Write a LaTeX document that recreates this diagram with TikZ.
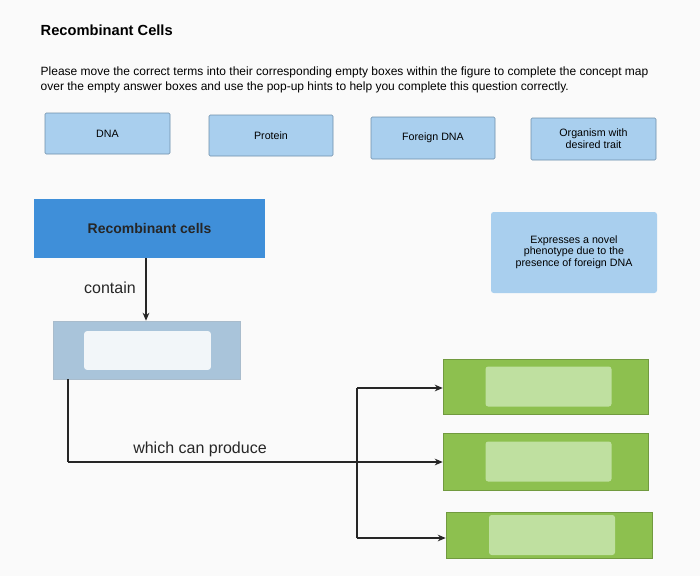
\documentclass[tikz,border=0pt]{standalone}
\usepackage{fontspec}
\setmainfont{Liberation Sans}
\usetikzlibrary{arrows.meta}
\definecolor{lb}{HTML}{A9CFEE}
\definecolor{lbd}{HTML}{6F8FAA}
\definecolor{mb}{HTML}{3F8FD9}
\definecolor{gb}{HTML}{8DC04F}
\definecolor{gi}{HTML}{BFE0A0}
\definecolor{gr}{HTML}{A9C4DA}
\begin{document}
\begin{tikzpicture}[x=0.75pt,y=-0.75pt,
 term/.style={draw=lbd,fill=lb,rounded corners=1pt,font=\fontsize{8}{9}\selectfont,align=center},
 ln/.style={line width=1.6pt,black!85},
 ar/.style={ln,-{Stealth[length=6pt,width=5pt]}},
 lab/.style={font=\fontsize{12}{14}\selectfont,text=black!85}]
\fill[white!96!gray] (0,0) rectangle (700,576);
\node[anchor=west,font=\bfseries\fontsize{11}{13}\selectfont] (t) at (36,30) {Recombinant Cells};
\node[anchor=west,font=\fontsize{9}{11}\selectfont,align=left] (p) at (36,80) {Please move the correct terms into their corresponding empty boxes within the figure to complete the concept map\\over the empty answer boxes and use the pop-up hints to help you complete this question correctly.};
\node[term,minimum width=93.75pt,minimum height=30.75pt] (dna) at (107.5,133.5) {DNA};
\node[term,minimum width=93pt,minimum height=30.75pt] (pro) at (271,135.5) {Protein};
\node[term,minimum width=93pt,minimum height=31.5pt] (fd) at (433,138) {Foreign DNA};
\node[term,minimum width=93.75pt,minimum height=31.5pt] (org) at (593.5,139) {Organism with\\desired trait};
\node[fill=mb,minimum width=173.25pt,minimum height=44.25pt,font=\bfseries\fontsize{10.5}{12}\selectfont,text=black!85] (rc) at (149.5,228.5) {Recombinant cells};
\node[fill=lb,rounded corners=2pt,minimum width=124.5pt,minimum height=60.75pt,font=\fontsize{8}{8.5}\selectfont,align=center] (ex) at (574,252.5) {};
\node[font=\fontsize{8}{8.5}\selectfont,align=center] (ext) at (574,252) {Expresses a novel\\phenotype due to the\\presence of foreign DNA};
\node[draw=lbd!60,fill=gr,minimum width=140.25pt,minimum height=43.5pt] (cb) at (146.5,350) {};
\node[fill=white!85!gr,rounded corners=2pt,minimum width=95pt,minimum height=29pt] (cbi) at (147.5,350.5) {};
\draw[ar] (146,258) -- (cb.north-|146,0);
\node[lab] (c) at (110,288) {contain};
\foreach \n/\xa/\ya/\xb/\yb in {g1/443/359/648/414,g2/443/433/648/490,g3/446/512/652/558}{
 \node[fill=gb,draw=gb!80!black,minimum width={(\xb-\xa)*0.75pt},minimum height={(\yb-\ya)*0.75pt}] (\n) at ({(\xa+\xb)/2},{(\ya+\yb)/2}) {};
 \node[fill=gi,rounded corners=2pt,minimum width=94.5pt,minimum height=30pt] (\n i) at ({(\xa+\xb)/2+3},{(\ya+\yb)/2}) {};
}
\coordinate (d0) at (68,379);
\coordinate (d1) at (68,462);
\coordinate (bt) at (357,388);
\coordinate (bb) at (357,538);
\draw[ln] (d0) -- (d1);
\draw[ar] (d1) -- (g2.west|-d1);
\draw[ln] (bb) -- (bt);
\draw[ar] (bt) -- (g1.west|-bt);
\draw[ar] (bb) -- (g3.west|-bb);
\node[lab] (wp) at (200,449) {which can produce};
\end{tikzpicture}
\end{document}
